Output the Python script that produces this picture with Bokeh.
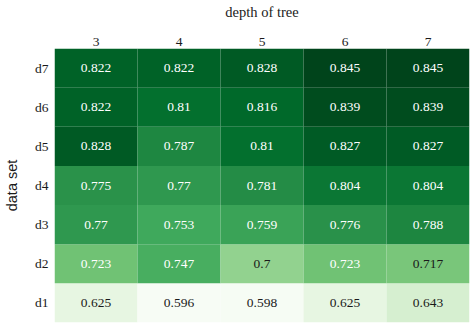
from bokeh.plotting import figure
from bokeh.models import ColumnDataSource, LinearColorMapper
from bokeh.palettes import Greens256
from bokeh.transform import transform
from bokeh.core.properties import value
from bokeh.embed import file_html
from bokeh.resources import INLINE

depths = ["3", "4", "5", "6", "7"]
datasets = ["d1", "d2", "d3", "d4", "d5", "d6", "d7"]
scores = {
    "d7": [0.822, 0.822, 0.828, 0.845, 0.845],
    "d6": [0.822, 0.81, 0.816, 0.839, 0.839],
    "d5": [0.828, 0.787, 0.81, 0.827, 0.827],
    "d4": [0.775, 0.77, 0.781, 0.804, 0.804],
    "d3": [0.77, 0.753, 0.759, 0.776, 0.788],
    "d2": [0.723, 0.747, 0.7, 0.723, 0.717],
    "d1": [0.625, 0.596, 0.598, 0.625, 0.643],
}

xs, ys, vals, labels, tcolors = [], [], [], [], []
for d in datasets:
    for dep, v in zip(depths, scores[d]):
        xs.append(dep)
        ys.append(d)
        vals.append(v)
        labels.append(f"{v:g}")
        tcolors.append("#ffffff" if v > 0.72 else "#1a1a1a")

src = ColumnDataSource(dict(x=xs, y=ys, v=vals, label=labels, tc=tcolors))
allv = [v for d in datasets for v in scores[d]]
mapper = LinearColorMapper(palette=list(reversed(Greens256)), low=min(allv), high=max(allv))

p = figure(width=474, height=327, x_range=depths, y_range=datasets,
           x_axis_location="above", toolbar_location=None, output_backend="svg",
           min_border_left=52, min_border_top=0, min_border_right=5, min_border_bottom=5)
p.rect(x="x", y="y", width=1, height=1, source=src,
       fill_color=transform("v", mapper), line_color=None)
p.text(x="x", y="y", text="label", source=src, text_color="tc",
       text_align="center", text_baseline="middle",
       text_font=value("Liberation Serif"), text_font_size="13.5px")

p.outline_line_color = None
p.grid.grid_line_color = None
for ax in (p.xaxis[0], p.yaxis[0]):
    ax.axis_line_color = None
    ax.major_tick_line_color = None
    ax.minor_tick_line_color = None
    ax.major_tick_out = 0
    ax.major_tick_in = 0
    ax.major_label_text_font = "Liberation Serif"
    ax.major_label_text_font_size = "13.5px"
    ax.major_label_text_color = "#1a1a1a"
    ax.axis_label_text_font_style = "normal"
    ax.axis_label_text_color = "#1a1a1a"
    ax.axis_label_text_font_size = "14.5px"

p.xaxis.axis_label = "depth of tree"
p.xaxis.axis_label_text_font = "Liberation Serif"
p.xaxis.major_label_standoff = 3
p.xaxis.axis_label_standoff = 15
p.yaxis.axis_label = "data set"
p.yaxis.axis_label_text_font = "Liberation Sans"
p.yaxis.major_label_standoff = 6
p.yaxis.axis_label_standoff = 12

open("out.html", "w").write(file_html(p, INLINE))
